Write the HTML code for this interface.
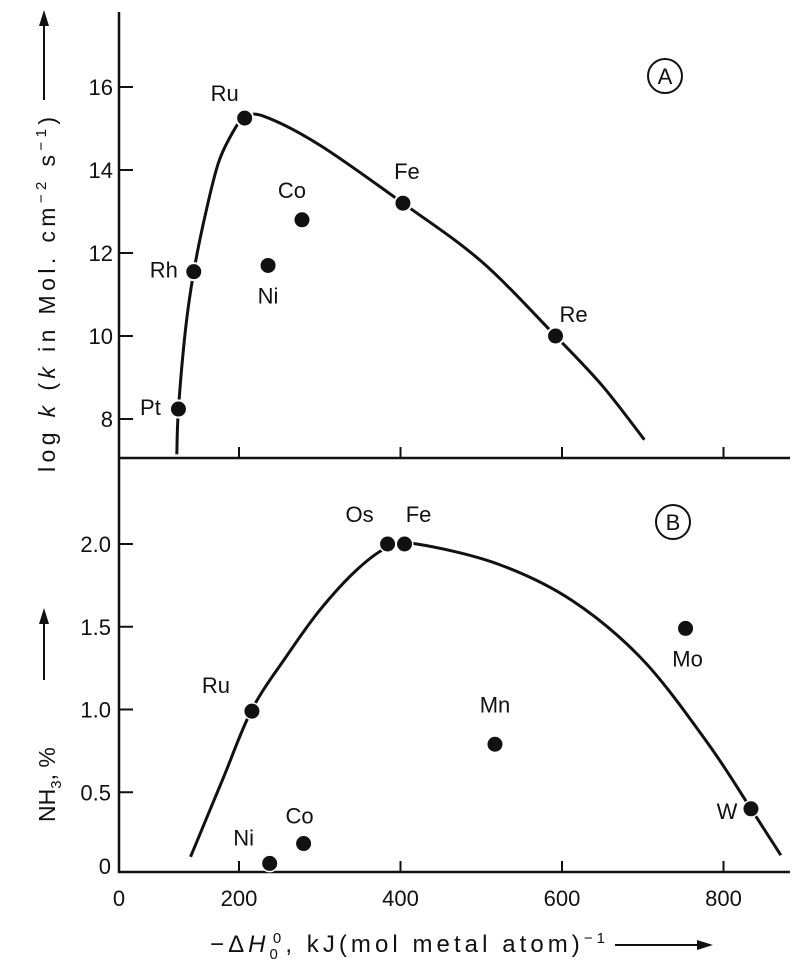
<!DOCTYPE html>
<html><head><meta charset="utf-8"><style>
body{margin:0;background:#fff}
svg text{font-family:"Liberation Sans",sans-serif;fill:#111}
</style></head><body>
<svg id="c" width="805" height="968" viewBox="0 0 805 968">
<g id="g"></g>
<text x="665" y="84" font-size="22" text-anchor="middle">A</text>
<circle cx="665" cy="76" r="17" fill="none" stroke="#111" stroke-width="2"/>
<text x="673" y="530" font-size="22" text-anchor="middle">B</text>
<circle cx="673" cy="522" r="17" fill="none" stroke="#111" stroke-width="2"/>
<text transform="translate(55,472) rotate(-90)" font-size="23" textLength="355" lengthAdjust="spacing">log <tspan font-style="italic">k</tspan> (<tspan font-style="italic">k</tspan> in Mol. cm<tspan dy="-9" font-size="15">−2</tspan><tspan dy="9"> s</tspan><tspan dy="-9" font-size="15">−1</tspan><tspan dy="9">)</tspan></text>
<line x1="44" y1="100" x2="44" y2="22" stroke="#111" stroke-width="2"/>
<polygon points="44,10 39,26 49,26" fill="#111"/>
<text transform="translate(55,822) rotate(-90)" font-size="23">NH<tspan dy="6" font-size="15">3</tspan><tspan dy="-6">,  %</tspan></text>
<line x1="44" y1="680" x2="44" y2="622" stroke="#111" stroke-width="2"/>
<polygon points="44,608 39,624 49,624" fill="#111"/>
<text x="210" y="952" font-size="24" textLength="395" lengthAdjust="spacing">−Δ<tspan font-style="italic">H</tspan><tspan dy="7" font-size="15">0</tspan><tspan dy="-16" dx="-9" font-size="15">0</tspan><tspan dy="9">, kJ(mol metal atom)</tspan><tspan dy="-9" font-size="15">−1</tspan></text>
<line x1="615" y1="945" x2="700" y2="945" stroke="#111" stroke-width="2"/>
<polygon points="713,945 697,940 697,950" fill="#111"/>
</svg>
<script>
const xTicks=[0,200,400,600,800];
const topTicks=[8,10,12,14,16];
const botTicks=[0,0.5,1.0,1.5,2.0];
const botTickLabels=["0","0.5","1.0","1.5","2.0"];
const topNames=["Pt","Rh","Ru","Co","Ni","Fe","Re"];
const topX=[125,144,207,278,236,403,592];
const topY=[8.24,11.55,15.25,12.8,11.7,13.2,10.0];
const topCurveX=[123,125,134,144,158,175,195,207,230,300,403,500,592,650,702];
const topCurveY=[7.15,8.24,10.2,11.55,12.9,14.2,15.0,15.25,15.3,14.6,13.2,11.8,10.0,8.8,7.5];
const botNames=["Os","Fe","Ru","Ni","Co","Mn","Mo","W"];
const botX=[384,405,216,238,280,517,753,834];
const botY=[2.0,2.0,0.99,0.07,0.19,0.79,1.49,0.40];
const botCurveX=[140,180,216,260,300,345,384,420,520,612,700,780,834,871];
const botCurveY=[0.11,0.58,1.0,1.33,1.6,1.84,1.98,2.0,1.88,1.66,1.3,0.8,0.4,0.12];
const X=v=>239+(v-200)*0.8075;
const YT=v=>419-(v-8)*41.5;
const YB=v=>875-v*165.5;
const NS="http://www.w3.org/2000/svg";
const g=document.getElementById('g');
function mk(t,a,p){const e=document.createElementNS(NS,t);for(const k in a)e.setAttribute(k,a[k]);(p||g).appendChild(e);return e;}
let e;
e=mk('line',{x1:119,y1:12,x2:119,y2:873,stroke:'#111','stroke-width':2.5});


e=mk('line',{x1:118,y1:458,x2:790,y2:458,stroke:'#111','stroke-width':2.5});


e=mk('line',{x1:118,y1:872,x2:790,y2:872,stroke:'#111','stroke-width':2.5});


xTicks.forEach(v=>{
  const x=v===0?119:X(v);
  if(v>0){
    e=mk('line',{x1:x,y1:872,x2:x,y2:861,stroke:'#111','stroke-width':2});
    
    
    e=mk('line',{x1:x,y1:458,x2:x,y2:447,stroke:'#111','stroke-width':2});
    
    
  }
  e=mk('text',{x:x,y:906,'font-size':22,'text-anchor':'middle'});e.textContent=v;
  
  
});
topTicks.forEach(v=>{
  const y=YT(v);
  e=mk('line',{x1:119,y1:y,x2:133,y2:y,stroke:'#111','stroke-width':2});
  
  
  e=mk('text',{x:113,y:y+8,'font-size':22,'text-anchor':'end'});e.textContent=v;
  
  
});
botTicks.forEach((v,i)=>{
  const y=YB(v);
  if(v>0){e=mk('line',{x1:119,y1:y,x2:133,y2:y,stroke:'#111','stroke-width':2});
  
  }
  e=mk('text',{x:111,y:v===0?y-1:y+8,'font-size':22,'text-anchor':'end'});e.textContent=botTickLabels[i];
  
  
});
function curve(xs,ys,Y){
  let d='M'+X(xs[0])+','+Y(ys[0]);
  for(let i=0;i<xs.length-1;i++){
    const p0=[X(xs[Math.max(0,i-1)]),Y(ys[Math.max(0,i-1)])],p1=[X(xs[i]),Y(ys[i])],p2=[X(xs[i+1]),Y(ys[i+1])],p3=[X(xs[Math.min(xs.length-1,i+2)]),Y(ys[Math.min(xs.length-1,i+2)])];
    d+=' C'+(p1[0]+(p2[0]-p0[0])/6)+','+(p1[1]+(p2[1]-p0[1])/6)+' '+(p2[0]-(p3[0]-p1[0])/6)+','+(p2[1]-(p3[1]-p1[1])/6)+' '+p2[0]+','+p2[1];
  }
  return d;
}
e=mk('path',{d:curve(topCurveX,topCurveY,YT),fill:'none',stroke:'#111','stroke-width':3});


e=mk('path',{d:curve(botCurveX,botCurveY,YB),fill:'none',stroke:'#111','stroke-width':3});


const topLab={Pt:[-28,6],Rh:[-30,6],Ru:[-20,-17],Co:[-10,-22],Ni:[0,38],Fe:[4,-24],Re:[18,-14]};
const botLab={Os:[-28,-22],Fe:[14,-22],Ru:[-36,-18],Ni:[-26,-18],Co:[-4,-20],Mn:[0,-32],Mo:[2,38],W:[-24,10]};
topNames.forEach((n,i)=>{
  e=mk('circle',{cx:X(topX[i]),cy:YT(topY[i]),r:7.5,fill:'#111',stroke:'#fff','stroke-width':4,'paint-order':'stroke'});
  
  
  e=mk('text',{x:X(topX[i])+topLab[n][0],y:YT(topY[i])+topLab[n][1],'font-size':22,'text-anchor':'middle'});e.textContent=n;
  
  
});
botNames.forEach((n,i)=>{
  e=mk('circle',{cx:X(botX[i]),cy:YB(botY[i]),r:7.5,fill:'#111',stroke:'#fff','stroke-width':3,'paint-order':'stroke'});
  
  
  e=mk('text',{x:X(botX[i])+botLab[n][0],y:YB(botY[i])+botLab[n][1],'font-size':22,'text-anchor':'middle'});e.textContent=n;
  
  
});
</script>
</body></html>
